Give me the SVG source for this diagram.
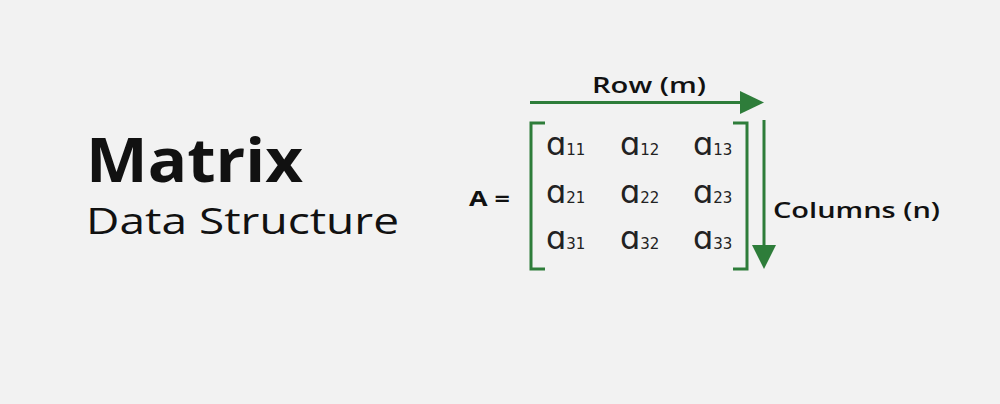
<svg xmlns="http://www.w3.org/2000/svg" width="1000" height="404" viewBox="0 0 1000 404">
<style>
.t{font-family:"Open Sans","Liberation Sans",sans-serif;fill:#111}
.a{font-family:"DejaVu Sans","Noto Sans",sans-serif;fill:#222;font-size:32px}
.s{font-size:15px}
.g{stroke:#2e7d3a;stroke-width:3;fill:none}
</style>
<rect width="1000" height="404" fill="#f2f2f2"/>
<g id="title">
<text class="t" x="86" y="182" font-size="60" font-weight="700" textLength="217" lengthAdjust="spacingAndGlyphs">Matrix</text>
<text class="t" x="86" y="234" font-size="36" font-weight="500" textLength="313" lengthAdjust="spacingAndGlyphs">Data Structure</text>
</g>
<g id="label-A"><text class="t" x="469" y="206" font-size="22" font-weight="700" textLength="41" lengthAdjust="spacingAndGlyphs">A =</text></g>
<g id="matrix">
<path class="g" d="M545,123 H531 V269 H545 M733,123 H747 V269 H733"/>
<text class="a" x="546" y="155">ɑ<tspan class="s">11</tspan></text>
<text class="a" x="620" y="155">ɑ<tspan class="s">12</tspan></text>
<text class="a" x="693" y="155">ɑ<tspan class="s">13</tspan></text>
<text class="a" x="546" y="203">ɑ<tspan class="s">21</tspan></text>
<text class="a" x="620" y="203">ɑ<tspan class="s">22</tspan></text>
<text class="a" x="693" y="203">ɑ<tspan class="s">23</tspan></text>
<text class="a" x="546" y="249">ɑ<tspan class="s">31</tspan></text>
<text class="a" x="620" y="249">ɑ<tspan class="s">32</tspan></text>
<text class="a" x="693" y="249">ɑ<tspan class="s">33</tspan></text>
</g>
<g id="connectors">
<line x1="530" y1="102.5" x2="742" y2="102.5" stroke="#2e7d3a" stroke-width="3"/>
<path d="M740,91 L764,102.5 L740,114 Z" fill="#2e7d3a"/>
<line x1="764" y1="120" x2="764" y2="248" stroke="#2e7d3a" stroke-width="3"/>
<path d="M752,245 L764,269 L776,245 Z" fill="#2e7d3a"/>
</g>
<g id="labels">
<text class="t" x="592" y="93" font-size="22" font-weight="600" textLength="114" lengthAdjust="spacingAndGlyphs">Row (m)</text>
<text class="t" x="773" y="218" font-size="22" font-weight="600" textLength="167" lengthAdjust="spacingAndGlyphs">Columns (n)</text>
</g>
</svg>
